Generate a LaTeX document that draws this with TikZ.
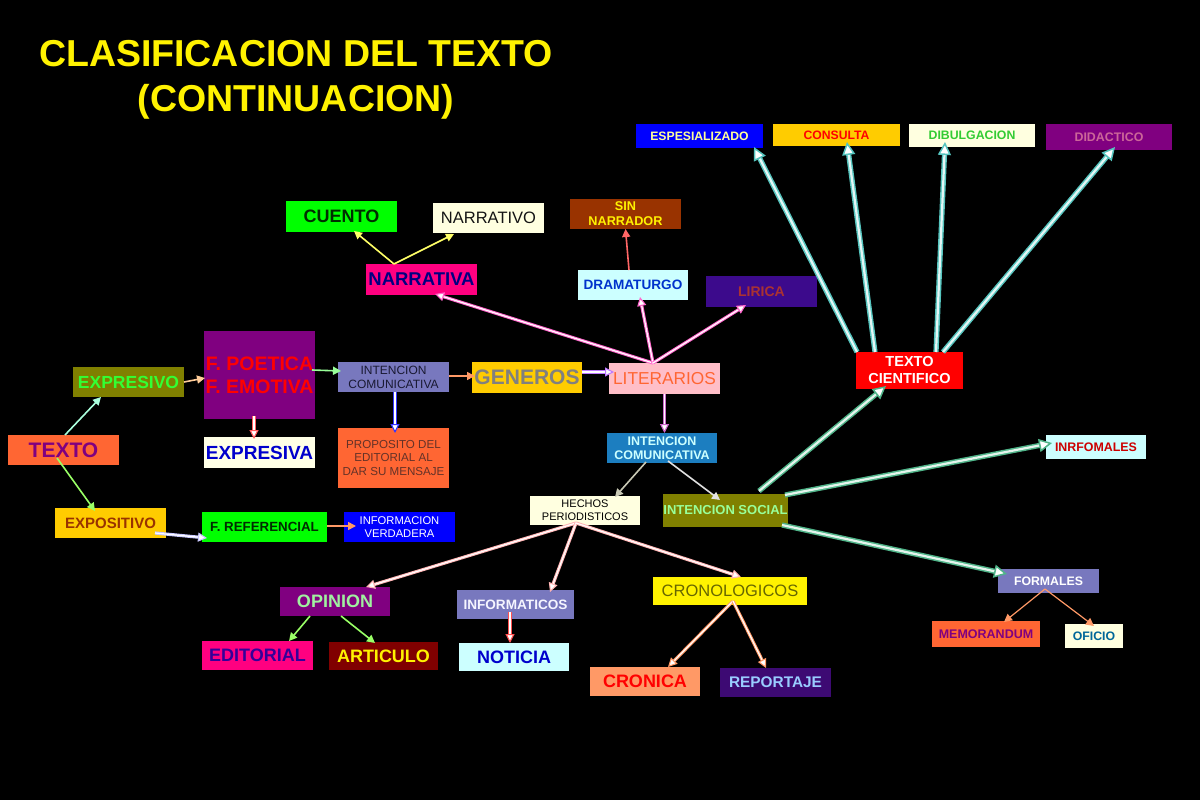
\documentclass[tikz,border=0pt]{standalone}
\usepackage{fontspec}
\setmainfont{Liberation Sans}
\usetikzlibrary{arrows.meta}
\newcommand{\fsz}[2]{\fontsize{#1}{#2}\selectfont}
\definecolor{aMint}{HTML}{AAFFDD}
\definecolor{aLGreen}{HTML}{99FF66}
\definecolor{aPeach}{HTML}{FFCC99}
\definecolor{aGreen}{HTML}{99FF99}
\definecolor{aSalmon}{HTML}{FF5A5A}
\definecolor{aBlue}{HTML}{3333FF}
\definecolor{aOrange}{HTML}{FF9966}
\definecolor{aLav}{HTML}{BE78FF}
\definecolor{aPale}{HTML}{C8C8FF}
\definecolor{aYellow}{HTML}{FFFF66}
\definecolor{aPink}{HTML}{FF66CC}
\definecolor{aRed}{HTML}{FF6666}
\definecolor{aMauve}{HTML}{CC66CC}
\definecolor{aGrey}{HTML}{C8C8B4}
\definecolor{aWhite}{HTML}{E1E1E1}
\definecolor{aSea}{HTML}{4FB388}
\definecolor{aRose}{HTML}{FFB4B4}
\definecolor{aRed2}{HTML}{FF5050}
\definecolor{aTeal}{HTML}{55C4BE}
\begin{document}
\begin{tikzpicture}[x=1pt,y=-1pt,
  box/.style={inner sep=0pt, outer sep=0pt, align=center},
  thinar/.style={draw=#1, line width=1.6pt, -{Triangle[length=8pt,width=8pt]}},
  dblar/.style={draw=#1, line width=1pt, double=white, double distance=1.2pt, -{Triangle[length=9pt,width=9pt,fill=white,line width=1.1pt]}},
  bigar/.style={draw=#1, line width=1.5pt, double=white!85!#1, double distance=2.2pt, -{Triangle[length=13pt,width=13pt,fill=white,line width=1.5pt]}},
]
\fill[black] (0,0) rectangle (1200,800);
\useasboundingbox (0,0) rectangle (1200,800);

% title
\node[text=yellow, font=\fsz{37.5}{45}\bfseries, align=center] (title) at (296,80) {CLASIFICACION DEL TEXTO\\(CONTINUACION)};

% left column
\node[box, fill={rgb,255:red,255;green,102;blue,51}, text={rgb,255:red,128;green,0;blue,128}, minimum width=111pt, minimum height=30pt, font=\fsz{21}{24}\bfseries] (texto) at (63.5,450) {TEXTO};
\node[box, fill={rgb,255:red,128;green,128;blue,0}, text={rgb,255:red,51;green,255;blue,51}, minimum width=111pt, minimum height=30pt, font=\fsz{17.5}{20}\bfseries] (expresivo) at (128.5,382) {EXPRESIVO};
\node[box, fill={rgb,255:red,128;green,0;blue,128}, text=red, minimum width=111pt, minimum height=88pt, font=\fsz{19.5}{23}\bfseries] (poetica) at (259.5,375) {F. POETICA\\F. EMOTIVA};
\node[box, fill={rgb,255:red,255;green,255;blue,230}, text={rgb,255:red,0;green,0;blue,204}, minimum width=111pt, minimum height=31pt, font=\fsz{19}{22}\bfseries] (expresiva) at (259.5,452.5) {EXPRESIVA};
\node[box, fill={rgb,255:red,120;green,120;blue,190}, text={rgb,255:red,25;green,25;blue,50}, minimum width=111pt, minimum height=30pt, font=\fsz{12}{14}] (intcomA) at (393.5,377) {INTENCION\\COMUNICATIVA};
\node[box, fill={rgb,255:red,255;green,102;blue,51}, text={rgb,255:red,100;green,50;blue,40}, minimum width=111pt, minimum height=60pt, font=\fsz{11.6}{13.5}] (proposito) at (393.5,458) {PROPOSITO DEL\\EDITORIAL AL\\DAR SU MENSAJE};
\node[box, fill={rgb,255:red,255;green,204;blue,0}, text={rgb,255:red,153;green,51;blue,0}, minimum width=111pt, minimum height=30pt, font=\fsz{15}{18}\bfseries] (expositivo) at (110.5,523) {EXPOSITIVO};
\node[box, fill={rgb,255:red,0;green,255;blue,0}, text={rgb,255:red,0;green,45;blue,0}, minimum width=125pt, minimum height=30pt, font=\fsz{13.3}{16}\bfseries] (freferencial) at (264.5,527) {F. REFERENCIAL};
\node[box, fill={rgb,255:red,0;green,0;blue,255}, text=white, minimum width=111pt, minimum height=30pt, font=\fsz{11.2}{13}] (informacion) at (399.5,527) {INFORMACION\\VERDADERA};

% upper middle
\node[box, fill={rgb,255:red,0;green,255;blue,0}, text={rgb,255:red,0;green,45;blue,0}, minimum width=111pt, minimum height=31pt, font=\fsz{18}{20}\bfseries] (cuento) at (341.5,216.5) {CUENTO};
\node[box, fill={rgb,255:red,255;green,255;blue,224}, text={rgb,255:red,20;green,20;blue,20}, minimum width=111pt, minimum height=30pt, font=\fsz{16.5}{19}] (narrativo) at (488.5,218) {NARRATIVO};
\node[box, fill={rgb,255:red,255;green,0;blue,128}, text={rgb,255:red,0;green,0;blue,128}, minimum width=111pt, minimum height=31pt, font=\fsz{18.5}{21}\bfseries] (narrativa) at (421.5,279.5) {NARRATIVA};
\node[box, fill={rgb,255:red,153;green,51;blue,0}, text=yellow, minimum width=111pt, minimum height=30pt, font=\fsz{12.7}{15}\bfseries] (sinnarrador) at (625.5,214) {SIN\\NARRADOR};
\node[box, fill={rgb,255:red,204;green,255;blue,255}, text={rgb,255:red,0;green,51;blue,204}, minimum width=110pt, minimum height=30pt, font=\fsz{13.6}{16}\bfseries] (dramaturgo) at (633,285) {DRAMATURGO};
\node[box, fill={rgb,255:red,60;green,10;blue,140}, text={rgb,255:red,170;green,50;blue,50}, minimum width=111pt, minimum height=31pt, font=\fsz{14}{16}\bfseries] (lirica) at (761.5,291.5) {LIRICA};
\node[box, fill={rgb,255:red,255;green,204;blue,0}, text={rgb,255:red,128;green,128;blue,128}, minimum width=110pt, minimum height=31pt, font=\fsz{21}{24}\bfseries] (generos) at (527,377.5) {GENEROS};
\node[box, fill={rgb,255:red,255;green,190;blue,200}, text={rgb,255:red,255;green,102;blue,51}, minimum width=111pt, minimum height=31pt, font=\fsz{17.3}{20}] (literarios) at (664.5,378.5) {LITERARIOS};

% top right
\node[box, fill={rgb,255:red,0;green,0;blue,255}, text={rgb,255:red,255;green,255;blue,153}, minimum width=127pt, minimum height=24pt, font=\fsz{12.2}{14}\bfseries] (espesializado) at (699.5,136) {ESPESIALIZADO};
\node[box, fill={rgb,255:red,255;green,204;blue,0}, text=red, minimum width=127pt, minimum height=22pt, font=\fsz{12.2}{14}\bfseries] (consulta) at (836.5,135) {CONSULTA};
\node[box, fill={rgb,255:red,255;green,255;blue,224}, text={rgb,255:red,51;green,204;blue,51}, minimum width=126pt, minimum height=23pt, font=\fsz{12.3}{14}\bfseries] (dibulgacion) at (972,135.5) {DIBULGACION};
\node[box, fill={rgb,255:red,128;green,0;blue,128}, text={rgb,255:red,204;green,102;blue,153}, minimum width=126pt, minimum height=26pt, font=\fsz{12.4}{14}\bfseries] (didactico) at (1109,137) {DIDACTICO};
\node[box, fill=red, text=white, minimum width=107pt, minimum height=37pt, font=\fsz{14.5}{17}\bfseries] (cientifico) at (909.5,370.5) {TEXTO\\CIENTIFICO};

% lower middle
\node[box, fill={rgb,255:red,28;green,126;blue,192}, text={rgb,255:red,204;green,255;blue,255}, minimum width=110pt, minimum height=30pt, font=\fsz{12.5}{14}\bfseries] (intcomB) at (662,448) {INTENCION\\COMUNICATIVA};
\node[box, fill={rgb,255:red,255;green,255;blue,224}, text=black, minimum width=110pt, minimum height=29pt, font=\fsz{11}{13}] (hechos) at (585,510.5) {HECHOS\\PERIODISTICOS};
\node[box, fill={rgb,255:red,128;green,128;blue,0}, text={rgb,255:red,153;green,255;blue,153}, minimum width=123pt, minimum height=33pt, font=\fsz{13}{15}\bfseries] (intsocial) at (725.5,510.5) {INTENCION SOCIAL};
\node[box, fill={rgb,255:red,128;green,0;blue,128}, text={rgb,255:red,160;green,240;blue,160}, minimum width=110pt, minimum height=29pt, font=\fsz{18}{20}\bfseries] (opinion) at (335,601.5) {OPINION};
\node[box, fill={rgb,255:red,255;green,0;blue,128}, text={rgb,255:red,51;green,0;blue,153}, minimum width=111pt, minimum height=29pt, font=\fsz{18}{20}\bfseries] (editorial) at (257.5,655.5) {EDITORIAL};
\node[box, fill={rgb,255:red,128;green,0;blue,0}, text=yellow, minimum width=109pt, minimum height=28pt, font=\fsz{18}{20}\bfseries] (articulo) at (383.5,656) {ARTICULO};
\node[box, fill={rgb,255:red,120;green,120;blue,190}, text={rgb,255:red,245;green,245;blue,255}, minimum width=117pt, minimum height=29pt, font=\fsz{13.6}{16}\bfseries] (informaticos) at (515.5,604.5) {INFORMATICOS};
\node[box, fill={rgb,255:red,204;green,255;blue,255}, text={rgb,255:red,0;green,0;blue,204}, minimum width=110pt, minimum height=28pt, font=\fsz{18}{20}\bfseries] (noticia) at (514,657) {NOTICIA};
\node[box, fill=yellow, text={rgb,255:red,102;green,102;blue,0}, minimum width=154pt, minimum height=28pt, font=\fsz{16.5}{19}] (cronologicos) at (730,591) {CRONOLOGICOS};
\node[box, fill={rgb,255:red,255;green,153;blue,102}, text=red, minimum width=110pt, minimum height=29pt, font=\fsz{18}{20}\bfseries] (cronica) at (645,681.5) {CRONICA};
\node[box, fill={rgb,255:red,61;green,10;blue,115}, text={rgb,255:red,153;green,204;blue,255}, minimum width=111pt, minimum height=29pt, font=\fsz{15.4}{18}\bfseries] (reportaje) at (775.5,682.5) {REPORTAJE};

% right
\node[box, fill={rgb,255:red,204;green,255;blue,255}, text={rgb,255:red,204;green,0;blue,0}, minimum width=100pt, minimum height=24pt, font=\fsz{12.4}{14}\bfseries] (informales) at (1096,447) {INRFOMALES};
\node[box, fill={rgb,255:red,120;green,120;blue,190}, text=white, minimum width=101pt, minimum height=24pt, font=\fsz{12.3}{14}\bfseries] (formales) at (1048.5,581) {FORMALES};
\node[box, fill={rgb,255:red,255;green,102;blue,51}, text={rgb,255:red,128;green,0;blue,128}, minimum width=108pt, minimum height=26pt, font=\fsz{12.5}{14}\bfseries] (memorandum) at (986,634) {MEMORANDUM};
\node[box, fill={rgb,255:red,255;green,255;blue,224}, text={rgb,255:red,0;green,102;blue,153}, minimum width=58pt, minimum height=24pt, font=\fsz{12.3}{14}\bfseries] (oficio) at (1094,636) {OFICIO};

% connectors
\draw[thinar=aMint] ([xshift=1.5pt]texto.north) -- ([xshift=-27.5pt]expresivo.south);
\draw[thinar=aLGreen] ([shift={(-6.5,8)}]texto.center) -- ([shift={(-15.5,3)}]expositivo.north);
\draw[thinar=aPeach] (expresivo.east) -- ([shift={(1,3)}]poetica.west);
\draw[thinar=aGreen] ([shift={(52.5,-5)}]poetica.center) -- ([shift={(-52.5,-6)}]intcomA.center);
\draw[dblar=aSalmon] ([shift={(-5.5,41)}]poetica.center) -- ([shift={(-5.5,-13.5)}]expresiva.center);
\draw[dblar=aBlue] ([xshift=1.5pt]intcomA.south) -- ([shift={(1.5,-25)}]proposito.center);
\draw[thinar=aOrange] ([shift={(0,-1)}]intcomA.east) -- ([shift={(3,-1.5)}]generos.west);
\draw[dblar=aLav] ([shift={(0,-5.5)}]generos.east) -- ([shift={(5,-6.5)}]literarios.west);
\draw[dblar=aPale] ([shift={(44.5,10)}]expositivo.center) -- ([shift={(-57.5,11)}]freferencial.center);
\draw[thinar=aOrange] ([shift={(0,-1)}]freferencial.east) -- ([shift={(-43.5,-1)}]informacion.center);

\draw[thinar=aYellow] ([xshift=-27.5pt]narrativa.north) -- ([shift={(12.5,14.5)}]cuento.center);
\draw[thinar=aYellow] ([xshift=-27.5pt]narrativa.north) -- ([shift={(-34.5,16)}]narrativo.center);
\draw[dblar=aPink] ([xshift=-11.5pt]literarios.north) -- ([shift={(13.5,14.5)}]narrativa.center);
\draw[dblar=aPink] ([xshift=-11.5pt]literarios.north) -- ([shift={(7,12)}]dramaturgo.center);
\draw[dblar=aPink] ([xshift=-11.5pt]literarios.north) -- ([shift={(-15.5,13.5)}]lirica.center);
\draw[thinar=aRed] ([xshift=-4pt]dramaturgo.north) -- (sinnarrador.south);
\draw[dblar=aMauve] (literarios.south) -- ([xshift=2.5pt]intcomB.north);

\draw[thinar=aGrey] ([shift={(-16,14)}]intcomB.center) -- ([shift={(30,-13.5)}]hechos.center);
\draw[thinar=aWhite] ([shift={(6,13)}]intcomB.center) -- ([shift={(-5.5,-10.5)}]intsocial.center);
\draw[bigar=aSea] ([shift={(33.5,-19.5)}]intsocial.center) -- ([shift={(-23.5,15.5)}]cientifico.center);
\draw[bigar=aSea] ([shift={(59.5,-15.5)}]intsocial.center) -- ([shift={(-44,-4)}]informales.center);
\draw[bigar=aSea] ([shift={(56.5,14.5)}]intsocial.center) -- ([shift={(-41.5,-7)}]formales.center);
\draw[thinar=aOrange, line width=1.2pt] ([shift={(-3.5,8)}]formales.center) -- ([shift={(18,-12)}]memorandum.center);
\draw[thinar=aOrange, line width=1.2pt] ([shift={(-3.5,8)}]formales.center) -- ([shift={(0,2)}]oficio.north);

\draw[dblar=aRose] ([shift={(-9,12.5)}]hechos.center) -- ([xshift=31pt]opinion.north);
\draw[dblar=aRose] ([shift={(-9,12.5)}]hechos.center) -- ([shift={(34.5,-12.5)}]informaticos.center);
\draw[dblar=aRose] ([shift={(-9,12.5)}]hechos.center) -- ([shift={(11,-14)}]cronologicos.center);
\draw[thinar=aLGreen] ([xshift=-25pt]opinion.south) -- ([xshift=31.5pt]editorial.north);
\draw[thinar=aLGreen] ([xshift=6pt]opinion.south) -- ([shift={(-8.5,1)}]articulo.north);
\draw[dblar=aRed2] ([shift={(-5.5,7.5)}]informaticos.center) -- ([xshift=-4pt]noticia.north);
\draw[dblar=aOrange] ([shift={(3,-4)}]cronologicos.south) -- ([xshift=23pt]cronica.north);
\draw[dblar=aOrange] ([shift={(3,-4)}]cronologicos.south) -- ([xshift=-9.5pt]reportaje.north);

\draw[bigar=aTeal] ([xshift=1pt]cientifico.north west) -- ([shift={(54.5,11)}]espesializado.center);
\draw[bigar=aTeal] ([xshift=-34.5pt]cientifico.north) -- ([shift={(10.5,7)}]consulta.center);
\draw[bigar=aTeal] ([xshift=26.5pt]cientifico.north) -- ([shift={(-27,6.5)}]dibulgacion.center);
\draw[bigar=aTeal] ([xshift=33.5pt]cientifico.north) -- ([shift={(6,10)}]didactico.center);
\end{tikzpicture}
\end{document}
